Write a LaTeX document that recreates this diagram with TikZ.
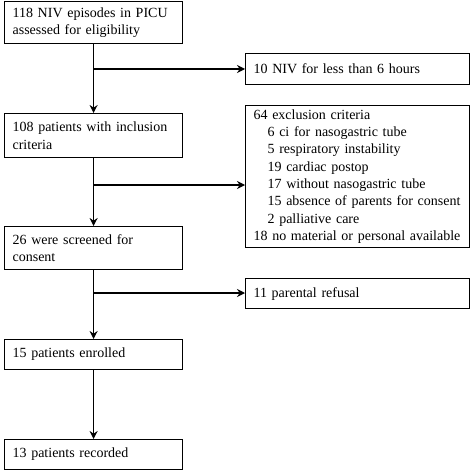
\documentclass[tikz,border=0pt]{standalone}
\usepackage{fontspec}
\setmainfont{Liberation Serif}
\usetikzlibrary{arrows.meta, positioning, calc}
\tikzset{
  every picture/.style={line width=0.9pt},
  box/.style={draw, anchor=north west, align=left, inner xsep=6pt, inner ysep=0pt,
    minimum height=#1, font=\fontsize{10.5}{13}\selectfont},
  lbox/.style={box=#1, text width=121.5pt},
  rbox/.style={box=#1, text width=156pt},
  arrow/.style={-{Stealth[length=6pt, width=6pt, inset=2pt]}, draw=black},
}
\newcommand{\sub}{\hspace*{1.0em}}

\begin{document}
\begin{tikzpicture}[x=0.75pt, y=-0.75pt]
  \useasboundingbox (0,0) rectangle (470,474);
  % main column
  \node[lbox=31.5pt] (s1) at (4,1) {118 NIV episodes in PICU\\assessed for eligibility};
  \node[lbox=33pt] (s2) at (4,113) {108 patients with inclusion\\criteria};
  \node[lbox=32.25pt] (s3) at (4,226) {26 were screened for\\consent};
  \node[lbox=22.5pt] (s4) at (4,339) {15 patients enrolled};
  \node[lbox=22.5pt] (s5) at (4,439) {13 patients recorded};
  % exclusions
  \node[rbox=23.25pt] (e1) at (245,53) {10 NIV for less than 6 hours};
  \node[rbox=106.5pt] (e2) at (245,105) {64 exclusion criteria\\
    \sub 6 ci for nasogastric tube\\
    \sub 5 respiratory instability\\
    \sub 19 cardiac postop\\
    \sub 17 without nasogastric tube\\
    \sub 15 absence of parents for consent\\
    \sub 2 palliative care\\
    18 no material or personal available};
  \node[rbox=22.5pt] (e3) at (245,278) {11 parental refusal};
  % arrows
  \foreach \a/\b in {s1/s2, s2/s3, s3/s4, s4/s5}
    \draw[arrow] (\a) -- (\b);
  \coordinate (j1) at (93,69);
  \coordinate (j2) at (93,185);
  \coordinate (j3) at (93,293);
  \draw[arrow] (j1) -- (j1 -| e1.west);
  \draw[arrow] (j2) -- (j2 -| e2.west);
  \draw[arrow] (j3) -- (j3 -| e3.west);
\end{tikzpicture}
\end{document}
